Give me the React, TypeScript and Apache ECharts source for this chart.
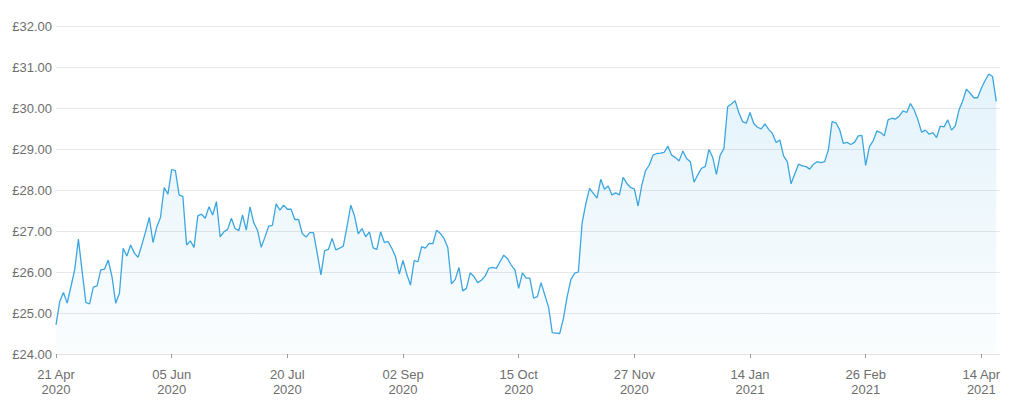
import React, { useEffect, useRef } from "react";
import * as echarts from "echarts";

// Trading calendar (UK) used for the category axis
const startDate = "2020-04-21";
const tradingDayCount = 254; // 253 prices + one trailing empty slot
const holidays = [
  "2020-05-08", "2020-05-25", "2020-08-31", "2020-12-25", "2020-12-28",
  "2021-01-01", "2021-04-02", "2021-04-05",
];
const monthNames = ["Jan", "Feb", "Mar", "Apr", "May", "Jun", "Jul", "Aug", "Sep", "Oct", "Nov", "Dec"];

// Closing prices (£), one per trading day from 21 Apr 2020
const prices = [
  24.71, 25.28, 25.50, 25.24, 25.64, 26.05, 26.80, 26.02, 25.26, 25.22,
  25.63, 25.66, 26.05, 26.07, 26.29, 25.89, 25.24, 25.48, 26.58, 26.39,
  26.66, 26.46, 26.36, 26.66, 26.98, 27.33, 26.72, 27.10, 27.33, 28.06,
  27.90, 28.50, 28.47, 27.88, 27.84, 26.66, 26.76, 26.60, 27.37, 27.41,
  27.31, 27.59, 27.39, 27.72, 26.86, 26.98, 27.04, 27.31, 27.06, 27.01,
  27.39, 27.02, 27.59, 27.20, 27.02, 26.60, 26.85, 27.12, 27.14, 27.66,
  27.51, 27.63, 27.53, 27.53, 27.28, 27.28, 26.94, 26.85, 26.96, 26.96,
  26.46, 25.93, 26.52, 26.55, 26.82, 26.54, 26.58, 26.63, 27.11, 27.63,
  27.37, 26.93, 27.06, 26.86, 26.98, 26.59, 26.55, 26.98, 26.72, 26.74,
  26.58, 26.37, 25.95, 26.28, 25.95, 25.68, 26.28, 26.25, 26.62, 26.58,
  26.70, 26.69, 27.02, 26.94, 26.82, 26.60, 25.71, 25.82, 26.11, 25.54,
  25.60, 25.98, 25.89, 25.74, 25.80, 25.90, 26.09, 26.11, 26.09, 26.25,
  26.41, 26.33, 26.17, 26.05, 25.60, 25.98, 25.85, 25.85, 25.36, 25.40,
  25.74, 25.44, 25.15, 24.52, 24.51, 24.50, 24.87, 25.40, 25.82, 25.97,
  26.00, 27.19, 27.67, 28.04, 27.92, 27.80, 28.26, 28.02, 28.10, 27.88,
  27.93, 27.88, 28.31, 28.16, 28.06, 28.03, 27.61, 28.12, 28.47, 28.61,
  28.85, 28.89, 28.90, 28.92, 29.07, 28.85, 28.79, 28.71, 28.95, 28.77,
  28.69, 28.19, 28.37, 28.53, 28.57, 28.99, 28.80, 28.38, 28.85, 29.01,
  30.03, 30.10, 30.18, 29.89, 29.67, 29.63, 29.89, 29.62, 29.53, 29.49,
  29.61, 29.48, 29.38, 29.16, 29.22, 28.83, 28.69, 28.15, 28.39, 28.63,
  28.59, 28.57, 28.51, 28.63, 28.69, 28.67, 28.69, 28.98, 29.67, 29.64,
  29.48, 29.14, 29.16, 29.11, 29.16, 29.32, 29.33, 28.60, 29.06, 29.20,
  29.44, 29.40, 29.32, 29.71, 29.75, 29.73, 29.80, 29.93, 29.89, 30.11,
  29.95, 29.71, 29.41, 29.46, 29.36, 29.40, 29.28, 29.56, 29.54, 29.71,
  29.46, 29.56, 29.95, 30.17, 30.46, 30.36, 30.25, 30.25, 30.48, 30.67,
  30.83, 30.77, 30.16,
];

const yTicks = { min: 24, max: 32, step: 1 };
const labelEvery = 31; // trading days between x-axis labels

function pad(n: number) {
  return n < 10 ? "0" + n : String(n);
}

function buildTradingDays(): string[] {
  const out: string[] = [];
  const d = new Date(startDate + "T12:00:00Z");
  while (out.length < tradingDayCount) {
    const iso = d.getUTCFullYear() + "-" + pad(d.getUTCMonth() + 1) + "-" + pad(d.getUTCDate());
    const wd = d.getUTCDay();
    if (wd !== 0 && wd !== 6 && holidays.indexOf(iso) < 0) out.push(iso);
    d.setUTCDate(d.getUTCDate() + 1);
  }
  return out;
}

export default function App() {
  const ref = useRef<HTMLDivElement>(null);

  useEffect(() => {
    if (!ref.current) return;
    const chart = echarts.init(ref.current, undefined, { renderer: "svg" });
    const days = buildTradingDays();

    chart.setOption({
      animation: false,
      grid: { left: 56, right: 24, top: 26, bottom: 61, containLabel: false },
      xAxis: {
        type: "category",
        data: days,
        boundaryGap: false,
        axisLine: { lineStyle: { color: "#e3e3e3", width: 1 } },
        axisTick: {
          interval: labelEvery - 1,
          length: 4,
          lineStyle: { color: "#999999" },
        },
        axisLabel: {
          interval: labelEvery - 1,
          margin: 13,
          color: "#6e6e6e",
          fontSize: 13,
          lineHeight: 15,
          fontFamily: "Liberation Sans, Arial, sans-serif",
          formatter: (v: string) => {
            const [y, m, dd] = v.split("-");
            return dd + " " + monthNames[parseInt(m, 10) - 1] + "\n" + y;
          },
        },
        splitLine: { show: false },
      },
      yAxis: {
        type: "value",
        min: yTicks.min,
        max: yTicks.max,
        interval: yTicks.step,
        axisLine: { show: false },
        axisTick: { show: false },
        axisLabel: {
          margin: 4,
          color: "#6e6e6e",
          fontSize: 13,
          fontFamily: "Liberation Sans, Arial, sans-serif",
          formatter: (v: number) => "£" + v.toFixed(2),
        },
        splitLine: { lineStyle: { color: "#e8e8e8", width: 1 } },
      },
      series: [
        {
          type: "line",
          data: prices,
          showSymbol: false,
          symbol: "none",
          lineStyle: { color: "#3ba6e0", width: 1.3 },
          areaStyle: {
            color: new echarts.graphic.LinearGradient(0, 0, 0, 1, [
              { offset: 0, color: "rgba(59,166,224,0.20)" },
              { offset: 1, color: "rgba(59,166,224,0.03)" },
            ]),
          },
        },
      ],
    });

    return () => chart.dispose();
  }, []);

  return (
    <div
      ref={ref}
      style={{ position: "fixed", left: 0, top: 0, width: 1024, height: 415, background: "#ffffff" }}
    />
  );
}
